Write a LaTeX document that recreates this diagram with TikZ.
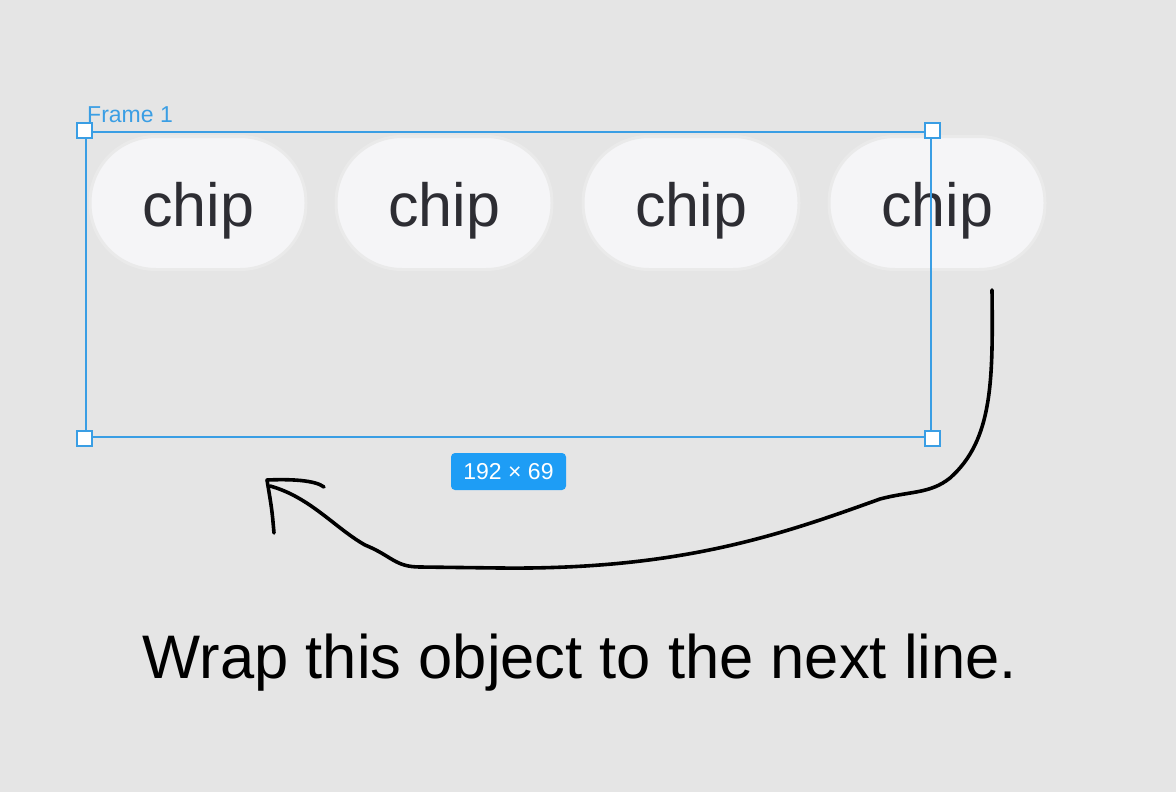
\documentclass[tikz,border=0pt]{standalone}
\usepackage{fontspec}
\setmainfont{Liberation Sans}
\usepackage{tikz}
\usetikzlibrary{shapes, arrows.meta, positioning}

\definecolor{bggray}{HTML}{E5E5E5}
\definecolor{frameblue}{HTML}{3A9EE4}
\definecolor{badgeblue}{HTML}{1E9DF5}
\definecolor{chipfill}{HTML}{F5F5F7}
\definecolor{chipline}{HTML}{EAEAEA}
\definecolor{chiptext}{HTML}{2D2D33}

\begin{document}
\begin{tikzpicture}[x=1pt, y=-1pt,
    chipbox/.style={draw=chipline, line width=3pt, fill=chipfill, rounded corners=66pt,
        minimum width=216pt, minimum height=133pt, inner sep=0pt, text height=59pt, text depth=13pt,
        text=chiptext, font=\fontsize{61}{64}\selectfont},
    handle/.style={draw=frameblue, line width=2pt, fill=white, minimum size=15pt, inner sep=0pt},
    pen/.style={line width=3.6pt, line cap=round, line join=round}]
    % canvas
    \fill[bggray] (0,0) rectangle (1176,792);
    \useasboundingbox (0,0) rectangle (1176,792);

    % chips
    \node[chipbox] (chip1) at (198,203) {chip};
    \node[chipbox] (chip2) at (444,203) {chip};
    \node[chipbox] (chip3) at (691,203) {chip};
    \node[chipbox] (chip4) at (937,203) {chip};

    % frame with handles
    \node[draw=frameblue, line width=2.5pt, minimum width=845pt, minimum height=305pt, inner sep=0pt] (frame) at (508.5,284.5) {};
    \node[anchor=base west, inner sep=0pt, text=frameblue, font=\fontsize{23}{24}\selectfont] (framename) at (87,122) {Frame 1};
    \node[handle] (hnw) at (frame.north west) {};
    \node[handle] (hne) at (frame.north east) {};
    \node[handle] (hsw) at (frame.south west) {};
    \node[handle] (hse) at (frame.south east) {};
    \node[fill=badgeblue, rounded corners=4pt, text=white, minimum width=115pt, minimum height=37pt, inner sep=0pt,
        font=\fontsize{23}{24}\selectfont] (badge) at (508.5,471.5) {192 × 69};

    % hand drawn arrow
    \coordinate (start) at (992,290);
    \coordinate (tip) at (267,480);
    \draw[pen] (start) .. controls (993,380) and (993,440) .. (950,478)
        .. controls (930,494) and (910,491) .. (880,499)
        .. controls (780,535) and (680,570) .. (500,568) -- (420,567)
        .. controls (395,567) and (392,556) .. (365,545)
        .. controls (335,528) and (310,497) .. (270,486);
    \draw[pen] (274,533) .. controls (272,510) .. (tip) .. controls (290,479) and (315,480) .. (324,487);

    % caption
    \node[anchor=base, font=\fontsize{61.5}{66}\selectfont] (caption) at (580,678) {Wrap this object to the next line.};
\end{tikzpicture}
\end{document}
